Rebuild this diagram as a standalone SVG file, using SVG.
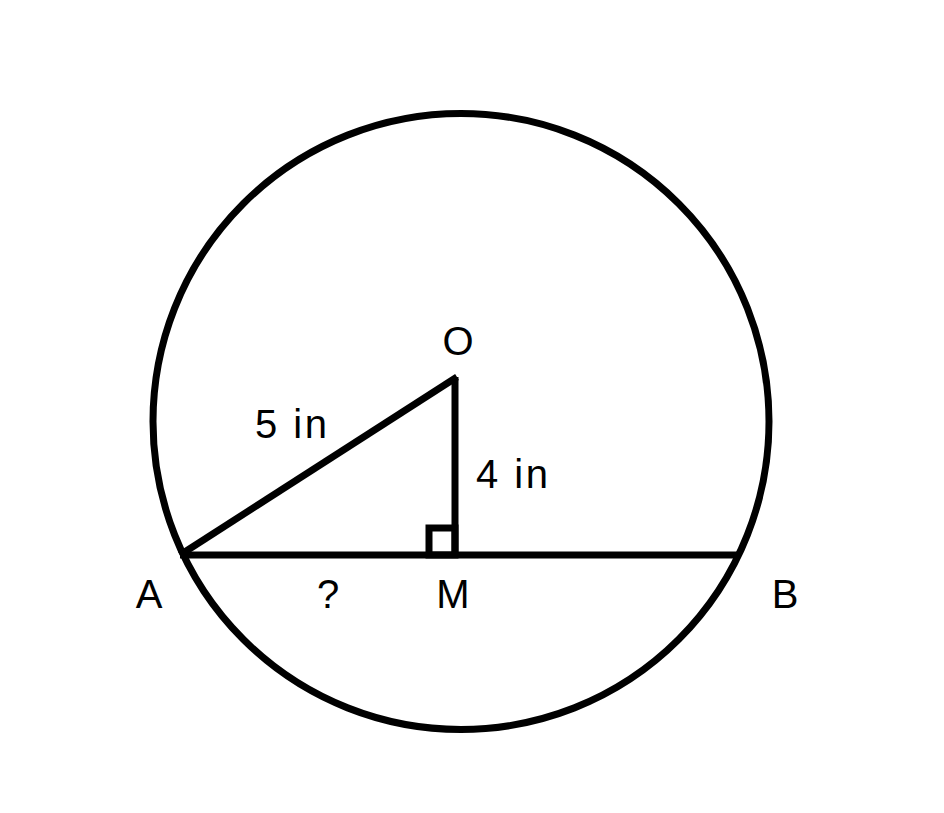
<svg xmlns="http://www.w3.org/2000/svg" width="944" height="813" viewBox="0 0 944 813">
<style>
.s{fill:none;stroke:#000;stroke-width:7;stroke-linecap:butt;stroke-linejoin:miter}
.t{font-family:"Liberation Sans",Arial,sans-serif;font-size:40px;fill:#000}
.w{letter-spacing:2.5px}
</style>
<rect width="944" height="813" fill="#fff"/>
<g id="circle"><circle class="s" cx="461" cy="421.5" r="308"/></g>
<g id="connectors">
<line class="s" x1="180" y1="555" x2="738" y2="555"/>
<line class="s" x1="180" y1="555" x2="457" y2="377"/>
<line class="s" x1="455" y1="377" x2="455" y2="555"/>
<rect class="s" x="429" y="528" width="26" height="27"/>
</g>
<g id="labels">
<text class="t" x="149" y="608" text-anchor="middle">A</text>
<text class="t" x="328" y="608" text-anchor="middle">?</text>
<text class="t" x="453" y="608" text-anchor="middle">M</text>
<text class="t" x="785" y="608" text-anchor="middle">B</text>
<text class="t" x="458" y="355" text-anchor="middle">O</text>
<text class="t w" x="255" y="438">5 in</text>
<text class="t w" x="476" y="488">4 in</text>
</g>
</svg>
